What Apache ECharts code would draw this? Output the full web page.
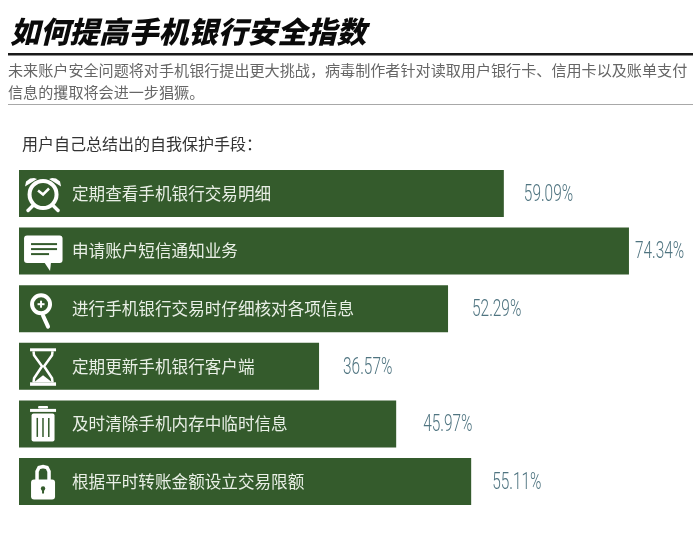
<!DOCTYPE html>
<html>
<head>
<meta charset="utf-8">
<style>html,body{margin:0;padding:0;background:#fff}#c{width:700px;height:560px}</style>
<script src="https://cdn.jsdelivr.net/npm/echarts@6/dist/echarts.min.js"></script>
</head>
<body>
<div id="c"></div>
<script>
const titleText = '如何提高手机银行安全指数';
const subtitleText = '未来账户安全问题将对手机银行提出更大挑战\uFF0C病毒制作者针对读取用户银行卡、信用卡以及账单支付\n信息的攫取将会进一步猖獗。';
const headingText = '用户自己总结出的自我保护手段\uFF1A';
const categories = ['定期查看手机银行交易明细','申请账户短信通知业务','进行手机银行交易时仔细核对各项信息','定期更新手机银行客户端','及时清除手机内存中临时信息','根据平时转账金额设立交易限额'];
const values = [59.09,74.34,52.29,36.57,45.97,55.11];
const labelGaps = [20,6,24,24,27,21];
const iconNames = ['clock','message','search','hourglass','trash','lock'];

const GREEN = '#345b2c', W = '#fff';
const fillW = {fill: W};
const strokeW = w => ({fill: 'none', stroke: W, lineWidth: w});
const icons = {
  clock: [
    {type:'circle',shape:{cx:0,cy:1,r:13.5},style:strokeW(4)},
    {type:'polygon',shape:{points:[[-18,-7],[-17,-12],[-13,-15],[-9,-15.5],[-6,-14.5]]},style:fillW},
    {type:'polygon',shape:{points:[[18,-7],[17,-12],[13,-15],[9,-15.5],[6,-14.5]]},style:fillW},
    {type:'line',shape:{x1:-10,y1:12,x2:-15,y2:17},style:{stroke:W,lineWidth:3.5,lineCap:'round'}},
    {type:'line',shape:{x1:10,y1:12,x2:15,y2:17},style:{stroke:W,lineWidth:3.5,lineCap:'round'}},
    {type:'polyline',shape:{points:[[-5,-3],[0,1],[6,-5]]},style:strokeW(2.5)}
  ],
  message: [
    {type:'rect',shape:{x:-19,y:-15.5,width:38.5,height:27.5,r:3},style:fillW},
    {type:'polygon',shape:{points:[[1,11],[8,11],[7,20]]},style:fillW},
    {type:'rect',shape:{x:-12,y:-8,width:26,height:2},style:{fill:GREEN}},
    {type:'rect',shape:{x:-12,y:-3,width:26,height:2},style:{fill:GREEN}},
    {type:'rect',shape:{x:-12,y:2,width:18,height:2},style:{fill:GREEN}}
  ],
  search: [
    {type:'circle',shape:{cx:-2,cy:-4.5,r:9},style:strokeW(4)},
    {type:'rect',shape:{x:-5.5,y:-5.5,width:7,height:2},style:fillW},
    {type:'rect',shape:{x:-3,y:-8,width:2,height:7},style:fillW},
    {type:'line',shape:{x1:0,y1:7,x2:5,y2:18},style:{stroke:W,lineWidth:4,lineCap:'round'}}
  ],
  hourglass: [
    {type:'rect',shape:{x:-13,y:-18,width:26,height:3},style:fillW},
    {type:'rect',shape:{x:-13,y:16,width:26,height:3.5},style:fillW},
    {type:'polyline',shape:{points:[[-9.5,-15],[-9,-11],[-1,0],[-9,12],[-9.5,16]]},style:strokeW(2.5)},
    {type:'polyline',shape:{points:[[9.5,-15],[9,-11],[1,0],[9,12],[9.5,16]]},style:strokeW(2.5)},
    {type:'polygon',shape:{points:[[-9,16],[0,9],[9,16]]},style:fillW}
  ],
  trash: [
    {type:'rect',shape:{x:-5,y:-18,width:10,height:2.5,r:1},style:fillW},
    {type:'rect',shape:{x:-13,y:-15,width:26,height:3},style:fillW},
    {type:'rect',shape:{x:-11.5,y:-10.5,width:23,height:28,r:2},style:fillW},
    {type:'rect',shape:{x:-6.5,y:-6,width:1.5,height:19},style:{fill:GREEN}},
    {type:'rect',shape:{x:-0.8,y:-6,width:1.5,height:19},style:{fill:GREEN}},
    {type:'rect',shape:{x:5,y:-6,width:1.5,height:19},style:{fill:GREEN}}
  ],
  lock: [
    {type:'polyline',shape:{points:[[-6,0],[-6,-10],[-4,-14],[0,-15],[4,-14],[6,-10],[6,0]]},style:strokeW(3.5)},
    {type:'rect',shape:{x:-12,y:-2,width:24,height:20,r:3},style:fillW},
    {type:'circle',shape:{cx:0,cy:7,r:2.2},style:{fill:GREEN}},
    {type:'rect',shape:{x:-1,y:7,width:2,height:5},style:{fill:GREEN}}
  ]
};

const chart = echarts.init(document.getElementById('c'));
chart.setOption({
  animation: false,
  backgroundColor: '#fff',
  title: [
    {text: titleText, left: 10, top: 17, padding: 0,
     textStyle: {fontFamily:'Noto Sans CJK SC', fontSize: 29.7, fontWeight: 900, fontStyle: 'italic', color: '#0a0a0a'}},
    {text: subtitleText, left: 8, top: 59, padding: 0,
     textStyle: {fontFamily:'Noto Sans CJK SC', fontSize: 15.1, fontWeight: 'normal', color: '#666', lineHeight: 22}},
    {text: headingText, left: 22, top: 134, padding: 0,
     textStyle: {fontFamily:'Noto Sans CJK SC', fontSize: 16, fontWeight: 'normal', color: '#333', lineHeight: 20}}
  ],
  graphic: [
    {type:'rect', shape:{x:8,y:53,width:685,height:2.5}, style:{fill:'#1a1a1a'}},
    {type:'rect', shape:{x:8,y:104,width:685,height:1}, style:{fill:'#a8a8a8'}}
  ],
  grid: {left: 19, top: 164.7, width: 656.4, height: 345.6, containLabel: false},
  xAxis: {type:'value', min: 0, max: 80, show: false},
  yAxis: {
    type:'category', data: categories, inverse: true, z: 5,
    axisLine:{show:false}, axisTick:{show:false}, splitLine:{show:false},
    axisLabel:{inside:true, margin:53, align:'left', fontFamily:'Noto Sans CJK SC', fontSize:16.6, color:'#e9efe6'}
  },
  series: [
    {type:'bar', barWidth: 47, data: values, itemStyle:{color:GREEN}},
    {
      type:'custom', z: 6, silent: true,
      data: values.map((v,i)=>[v,i]),
      encode:{x:0,y:1},
      renderItem(params, api){
        const i = params.dataIndex;
        const p = api.coord([api.value(0), api.value(1)]);
        return {type:'text', x:p[0]+labelGaps[i], y:p[1]+1.5, scaleX:0.67,
          style:{text: values[i].toFixed(2)+'%', align:'left', verticalAlign:'middle',
            font:'300 23px Roboto', fill:'#4f7480'}};
      }
    },
    {
      type:'custom', z: 6, silent: true,
      data: iconNames.map((n,i)=>[2.93,i]),
      encode:{x:0,y:1},
      renderItem(params, api){
        const p = api.coord([api.value(0), api.value(1)]);
        return {type:'group', x:p[0], y:p[1], children: icons[iconNames[params.dataIndex]]};
      }
    }
  ]
});
</script>
</body>
</html>
